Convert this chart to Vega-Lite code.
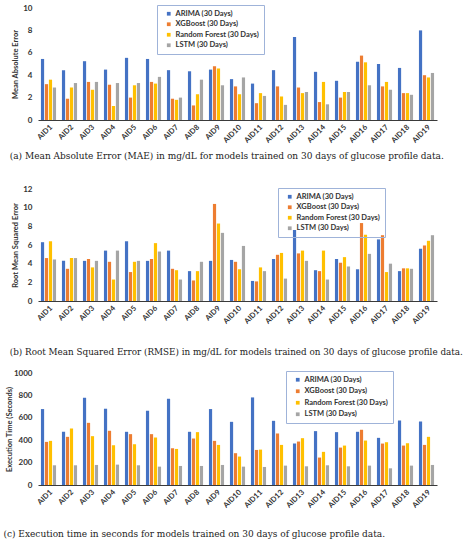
{
  "$schema": "https://vega.github.io/schema/vega-lite/v6.json",
  "background": "white",
  "padding": {"left": 3, "top": 4, "right": 2, "bottom": 1},
  "spacing": 24,
  "align": "none",
  "config": {
    "view": {"stroke": null},
    "font": "Lato",
    "axisY": {"domain": false, "ticks": false, "grid": false, "labelFontSize": 8, "labelFontWeight": "bold", "labelColor": "#333333", "labelPadding": 6, "titleFontSize": 7.5, "titleFontWeight": "bold", "titleColor": "#333333", "titlePadding": 3, "format": "d"},
    "axisX": {"domainColor": "#3a3a3a", "domainWidth": 1.2, "ticks": false, "grid": false, "labelAngle": -45, "labelFontSize": 7.5, "labelFontWeight": "bold", "labelColor": "#333333", "labelPadding": 3, "title": null},
    "legend": {"title": null, "symbolType": "square", "symbolSize": 14, "labelFontSize": 7.5, "labelFontWeight": "bold", "labelColor": "#333333", "strokeColor": "#9fb3d9", "padding": 5, "rowPadding": 1.5, "symbolOffset": 3, "labelOffset": 3},
    "title": {"font": "DejaVu Serif", "fontSize": 9, "fontWeight": "normal", "color": "#222222", "orient": "bottom", "anchor": "start", "frame": "bounds", "dx": -2}
  },
  "resolve": {"scale": {"color": "independent"}, "legend": {"color": "independent"}},
  "datasets": {
    "mae": [
      {"aid": "AID1", "ARIMA": 5.45, "XGBoost": 3.2, "Random Forest": 3.6, "LSTM": 2.9},
      {"aid": "AID2", "ARIMA": 4.45, "XGBoost": 1.9, "Random Forest": 2.9, "LSTM": 3.3},
      {"aid": "AID3", "ARIMA": 5.25, "XGBoost": 3.4, "Random Forest": 2.7, "LSTM": 3.4},
      {"aid": "AID4", "ARIMA": 4.5, "XGBoost": 3.15, "Random Forest": 1.25, "LSTM": 3.3},
      {"aid": "AID5", "ARIMA": 5.55, "XGBoost": 2.0, "Random Forest": 3.1, "LSTM": 3.3},
      {"aid": "AID6", "ARIMA": 5.45, "XGBoost": 3.4, "Random Forest": 3.25, "LSTM": 3.85},
      {"aid": "AID7", "ARIMA": 4.45, "XGBoost": 1.9, "Random Forest": 1.8, "LSTM": 2.0},
      {"aid": "AID8", "ARIMA": 4.35, "XGBoost": 1.3, "Random Forest": 2.3, "LSTM": 3.6},
      {"aid": "AID9", "ARIMA": 4.5, "XGBoost": 4.8, "Random Forest": 4.6, "LSTM": 3.1},
      {"aid": "AID10", "ARIMA": 3.65, "XGBoost": 3.0, "Random Forest": 2.3, "LSTM": 3.8},
      {"aid": "AID11", "ARIMA": 3.25, "XGBoost": 1.5, "Random Forest": 2.4, "LSTM": 2.15},
      {"aid": "AID12", "ARIMA": 4.45, "XGBoost": 3.0, "Random Forest": 2.1, "LSTM": 1.35},
      {"aid": "AID13", "ARIMA": 7.4, "XGBoost": 2.9, "Random Forest": 2.4, "LSTM": 2.5},
      {"aid": "AID14", "ARIMA": 4.3, "XGBoost": 1.6, "Random Forest": 3.4, "LSTM": 1.4},
      {"aid": "AID15", "ARIMA": 3.5, "XGBoost": 2.0, "Random Forest": 2.5, "LSTM": 2.5},
      {"aid": "AID16", "ARIMA": 5.2, "XGBoost": 5.75, "Random Forest": 5.15, "LSTM": 3.1},
      {"aid": "AID17", "ARIMA": 5.0, "XGBoost": 3.0, "Random Forest": 3.4, "LSTM": 2.7},
      {"aid": "AID18", "ARIMA": 4.65, "XGBoost": 2.4, "Random Forest": 2.4, "LSTM": 2.25},
      {"aid": "AID19", "ARIMA": 8.0, "XGBoost": 4.0, "Random Forest": 3.8, "LSTM": 4.2}
    ],
    "rmse": [
      {"aid": "AID1", "ARIMA": 6.3, "XGBoost": 4.6, "Random Forest": 6.4, "LSTM": 4.45},
      {"aid": "AID2", "ARIMA": 4.3, "XGBoost": 3.45, "Random Forest": 4.6, "LSTM": 4.6},
      {"aid": "AID3", "ARIMA": 4.3, "XGBoost": 4.5, "Random Forest": 3.6, "LSTM": 4.3},
      {"aid": "AID4", "ARIMA": 5.4, "XGBoost": 4.2, "Random Forest": 2.3, "LSTM": 5.4},
      {"aid": "AID5", "ARIMA": 6.4, "XGBoost": 3.1, "Random Forest": 4.2, "LSTM": 4.3},
      {"aid": "AID6", "ARIMA": 4.3, "XGBoost": 4.5, "Random Forest": 6.2, "LSTM": 5.3},
      {"aid": "AID7", "ARIMA": 5.4, "XGBoost": 3.45, "Random Forest": 3.3, "LSTM": 2.3},
      {"aid": "AID8", "ARIMA": 3.2, "XGBoost": 2.2, "Random Forest": 3.2, "LSTM": 4.2},
      {"aid": "AID9", "ARIMA": 4.3, "XGBoost": 10.4, "Random Forest": 8.3, "LSTM": 7.3},
      {"aid": "AID10", "ARIMA": 4.4, "XGBoost": 4.2, "Random Forest": 3.4, "LSTM": 5.9},
      {"aid": "AID11", "ARIMA": 2.15, "XGBoost": 2.1, "Random Forest": 3.6, "LSTM": 3.2},
      {"aid": "AID12", "ARIMA": 4.5, "XGBoost": 4.95, "Random Forest": 5.15, "LSTM": 2.4},
      {"aid": "AID13", "ARIMA": 7.6, "XGBoost": 5.1, "Random Forest": 5.4, "LSTM": 4.3},
      {"aid": "AID14", "ARIMA": 3.3, "XGBoost": 3.2, "Random Forest": 5.4, "LSTM": 2.3},
      {"aid": "AID15", "ARIMA": 4.5, "XGBoost": 4.1, "Random Forest": 4.7, "LSTM": 3.7},
      {"aid": "AID16", "ARIMA": 3.4, "XGBoost": 8.35, "Random Forest": 7.1, "LSTM": 5.05},
      {"aid": "AID17", "ARIMA": 6.6, "XGBoost": 7.05, "Random Forest": 3.1, "LSTM": 4.0},
      {"aid": "AID18", "ARIMA": 3.2, "XGBoost": 3.5, "Random Forest": 3.5, "LSTM": 3.45},
      {"aid": "AID19", "ARIMA": 5.6, "XGBoost": 5.95, "Random Forest": 6.45, "LSTM": 7.05}
    ],
    "time": [
      {"aid": "AID1", "ARIMA": 678, "XGBoost": 385, "Random Forest": 394, "LSTM": 176},
      {"aid": "AID2", "ARIMA": 475, "XGBoost": 430, "Random Forest": 505, "LSTM": 176},
      {"aid": "AID3", "ARIMA": 779, "XGBoost": 555, "Random Forest": 436, "LSTM": 179},
      {"aid": "AID4", "ARIMA": 681, "XGBoost": 484, "Random Forest": 355, "LSTM": 182},
      {"aid": "AID5", "ARIMA": 475, "XGBoost": 454, "Random Forest": 364, "LSTM": 176},
      {"aid": "AID6", "ARIMA": 663, "XGBoost": 454, "Random Forest": 424, "LSTM": 164},
      {"aid": "AID7", "ARIMA": 770, "XGBoost": 328, "Random Forest": 322, "LSTM": 170},
      {"aid": "AID8", "ARIMA": 475, "XGBoost": 415, "Random Forest": 472, "LSTM": 170},
      {"aid": "AID9", "ARIMA": 678, "XGBoost": 394, "Random Forest": 358, "LSTM": 179},
      {"aid": "AID10", "ARIMA": 564, "XGBoost": 284, "Random Forest": 254, "LSTM": 164},
      {"aid": "AID11", "ARIMA": 782, "XGBoost": 313, "Random Forest": 316, "LSTM": 161},
      {"aid": "AID12", "ARIMA": 573, "XGBoost": 460, "Random Forest": 358, "LSTM": 173},
      {"aid": "AID13", "ARIMA": 370, "XGBoost": 388, "Random Forest": 418, "LSTM": 167},
      {"aid": "AID14", "ARIMA": 481, "XGBoost": 245, "Random Forest": 296, "LSTM": 176},
      {"aid": "AID15", "ARIMA": 472, "XGBoost": 334, "Random Forest": 352, "LSTM": 167},
      {"aid": "AID16", "ARIMA": 475, "XGBoost": 493, "Random Forest": 397, "LSTM": 173},
      {"aid": "AID17", "ARIMA": 421, "XGBoost": 370, "Random Forest": 382, "LSTM": 149},
      {"aid": "AID18", "ARIMA": 576, "XGBoost": 352, "Random Forest": 373, "LSTM": 173},
      {"aid": "AID19", "ARIMA": 567, "XGBoost": 358, "Random Forest": 430, "LSTM": 179}
    ]
  },
  "vconcat": [
    {
      "width": 399, "height": 112,
      "data": {"name": "mae"},
      "transform": [{"fold": ["ARIMA", "XGBoost", "Random Forest", "LSTM"], "as": ["model", "value"]}],
      "title": {"text": "(a) Mean Absolute Error (MAE) in mg/dL for models trained on 30 days of glucose profile data.", "offset": 8},
      "mark": {"type": "bar"},
      "encoding": {
        "x": {"field": "aid", "type": "nominal", "sort": null, "scale": {"paddingInner": 0.28, "paddingOuter": 0.14}},
        "xOffset": {"field": "model", "type": "nominal", "sort": ["ARIMA", "XGBoost", "Random Forest", "LSTM"], "scale": {"paddingInner": 0.2}},
        "y": {"field": "value", "type": "quantitative", "scale": {"domain": [0, 10]}, "axis": {"title": "Mean Absolute Error", "values": [0, 2, 4, 6, 8, 10]}},
        "color": {"field": "model", "type": "nominal", "scale": {"domain": ["ARIMA", "XGBoost", "Random Forest", "LSTM"], "range": ["#4472C4", "#ED7D31", "#FFC000", "#A5A5A5"]}, "legend": {"orient": "none", "legendX": 119, "legendY": -3, "labelExpr": "datum.label + ' (30 Days)'"}}
      }
    },
    {
      "spacing": 12,
      "align": "none",
      "resolve": {"scale": {"color": "independent"}, "legend": {"color": "independent"}},
      "vconcat": [
        {
          "width": 399, "height": 112,
          "data": {"name": "rmse"},
          "transform": [{"fold": ["ARIMA", "XGBoost", "Random Forest", "LSTM"], "as": ["model", "value"]}],
          "title": {"text": "(b) Root Mean Squared Error (RMSE) in mg/dL for models trained on 30 days of glucose profile data.", "offset": 23, "fontSize": 8.8},
          "mark": {"type": "bar"},
          "encoding": {
            "x": {"field": "aid", "type": "nominal", "sort": null, "scale": {"paddingInner": 0.28, "paddingOuter": 0.14}},
            "xOffset": {"field": "model", "type": "nominal", "sort": ["ARIMA", "XGBoost", "Random Forest", "LSTM"], "scale": {"paddingInner": 0.2}},
            "y": {"field": "value", "type": "quantitative", "scale": {"domain": [0, 12]}, "axis": {"title": "Root Mean Squared Error", "values": [0, 2, 4, 6, 8, 10, 12]}},
            "color": {"field": "model", "type": "nominal", "scale": {"domain": ["ARIMA", "XGBoost", "Random Forest", "LSTM"], "range": ["#4472C4", "#ED7D31", "#FFC000", "#A5A5A5"]}, "legend": {"orient": "none", "legendX": 240, "legendY": -1, "labelExpr": "datum.label + ' (30 Days)'"}}
          }
        },
        {
          "width": 399, "height": 112,
          "data": {"name": "time"},
          "transform": [{"fold": ["ARIMA", "XGBoost", "Random Forest", "LSTM"], "as": ["model", "value"]}],
          "title": {"text": "(c) Execution time in seconds for models trained on 30 days of glucose profile data.", "offset": 21},
          "mark": {"type": "bar"},
          "encoding": {
            "x": {"field": "aid", "type": "nominal", "sort": null, "scale": {"paddingInner": 0.28, "paddingOuter": 0.14}},
            "xOffset": {"field": "model", "type": "nominal", "sort": ["ARIMA", "XGBoost", "Random Forest", "LSTM"], "scale": {"paddingInner": 0.2}},
            "y": {"field": "value", "type": "quantitative", "scale": {"domain": [0, 1000]}, "axis": {"title": "Execution Time (Seconds)", "values": [0, 200, 400, 600, 800, 1000], "titlePadding": 0, "labelPadding": 6}},
            "color": {"field": "model", "type": "nominal", "scale": {"domain": ["ARIMA", "XGBoost", "Random Forest", "LSTM"], "range": ["#4472C4", "#ED7D31", "#FFC000", "#A5A5A5"]}, "legend": {"orient": "none", "legendX": 248, "legendY": -2, "rowPadding": 2.5, "labelExpr": "datum.label + ' (30 Days)'"}}
          }
        }
      ]
    }
  ]
}
